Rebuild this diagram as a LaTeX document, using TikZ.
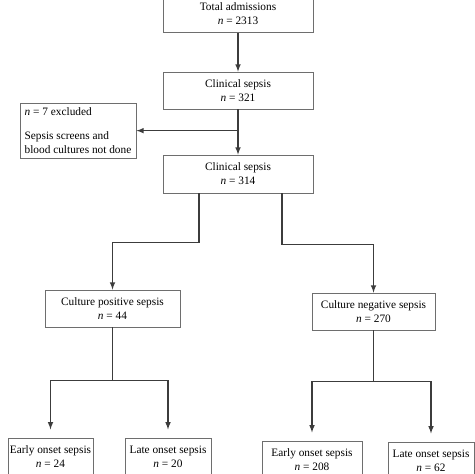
\documentclass[tikz,border=0pt]{standalone}
\usepackage{fontspec}
\setmainfont{Liberation Serif}
\usepackage{xcolor}
\usepackage{tikz}
\usetikzlibrary{calc}
\definecolor{BoxGray}{RGB}{110,110,110}
\definecolor{LineGray}{RGB}{60,60,60}
\newcommand{\nval}[1]{\textit{n} = #1}
\tikzset{
	flowbox/.style={draw=BoxGray, line width=0.6pt, align=center, inner sep=1pt,
		minimum width=#1, minimum height=27.75pt, font=\fontsize{8.5}{10.5}\selectfont},
	arr/.style={-latex, draw=LineGray, line width=0.9pt},
	gap/.style={shorten >=6.5pt},
}

\begin{document}
\begin{tikzpicture}[x=0.75pt, y=-0.75pt]
\useasboundingbox (0,0) rectangle (474,474);

% main column
\node[flowbox=112.5pt] (total) at (238,14) {Total admissions\\ \nval{2313}};
\node[flowbox=112.5pt] (clinA) at (238,90.5) {Clinical sepsis\\ \nval{321}};
\node[flowbox=112.5pt, minimum height=28.5pt] (clinB) at (238,174) {Clinical sepsis\\ \nval{314}};
\node[flowbox=87pt, minimum height=41.25pt, align=left] (excl) at (78,130.5)
	{\nval{7} excluded\\[7pt] Sepsis screens and\\ blood cultures not done};

% culture split
\node[flowbox=101.25pt] (pos) at (112.5,308.5) {Culture positive sepsis\\ \nval{44}};
\node[flowbox=92.25pt] (neg) at (373.5,311.5) {Culture negative sepsis\\ \nval{270}};

% onset
\node[flowbox=63.75pt] (earlyP) at (50.5,457) {Early onset sepsis\\ \nval{24}};
\node[flowbox=64.5pt] (lateP) at (168,457) {Late onset sepsis\\ \nval{20}};
\node[flowbox=75pt] (earlyN) at (312,460) {Early onset sepsis\\ \nval{208}};
\node[flowbox=64.5pt] (lateN) at (431,461) {Late onset sepsis\\ \nval{62}};

\draw[arr] (total) -- (clinA);
\draw[arr] (clinA) -- (clinB);
\coordinate (split) at ($(clinA.south)!0.47!(clinB.north)$);
\draw[arr] (split) -- (excl.east |- split);

\draw[arr] ($(clinB.south)+(-39,0)$) -- ++(0,49) -| (pos.north);
\draw[arr] ($(clinB.south)+(44,0)$) -- ++(0,51) -| (neg.north);

\draw[arr, -] (pos.south) -- ++(0,53) coordinate (posB);
\draw[arr, gap] (posB) -| (earlyP.north);
\draw[arr, gap] (posB) -| (lateP.north);
\draw[arr, -] (neg.south) -- ++(0,51) coordinate (negB);
\draw[arr, gap] (negB) -| (earlyN.north);
\draw[arr, gap] (negB) -| (lateN.north);
\end{tikzpicture}
\end{document}
